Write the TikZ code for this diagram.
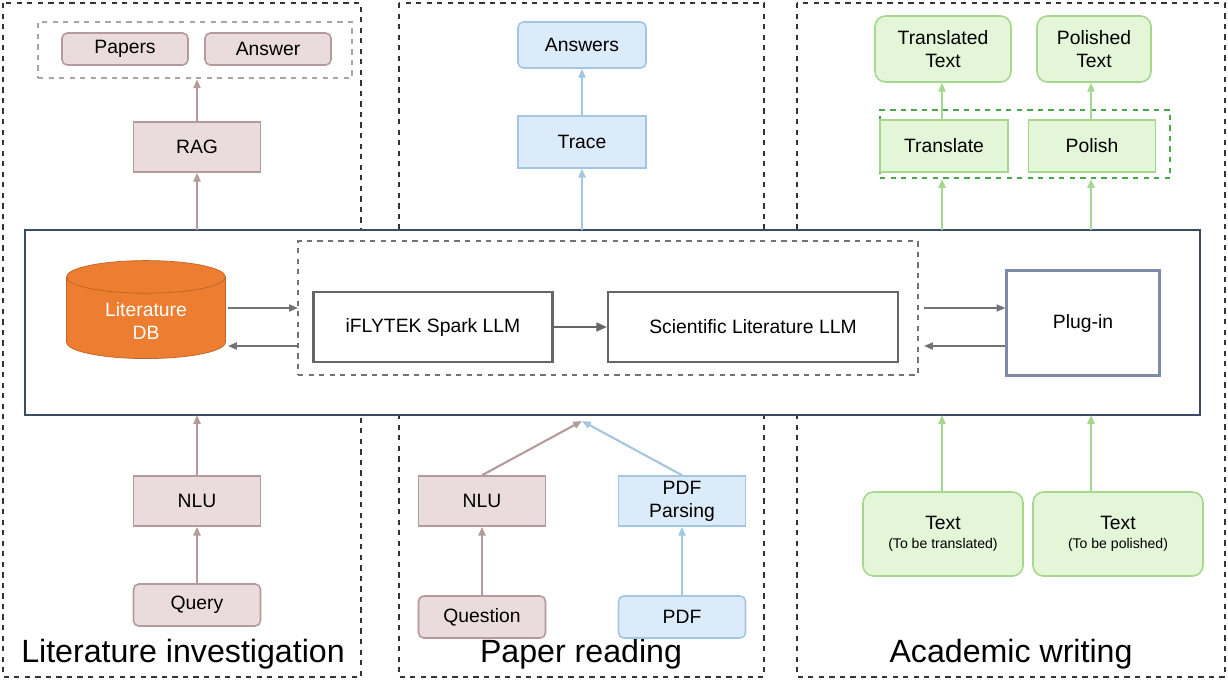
\documentclass[tikz,border=0pt]{standalone}
\usepackage{fontspec}
\setmainfont{Liberation Sans}
\usetikzlibrary{shapes.geometric,arrows.meta}
\definecolor{brF}{HTML}{EADCDC}\definecolor{brD}{HTML}{B49A9A}
\definecolor{blF}{HTML}{DCEBFA}\definecolor{blD}{HTML}{A3C6E2}
\definecolor{grF}{HTML}{E3F6D8}\definecolor{grD}{HTML}{A5D78E}
\definecolor{frame}{HTML}{3D4A66}\definecolor{plug}{HTML}{7D8AA8}
\definecolor{dbc}{HTML}{ED7D31}
\begin{document}
\begin{tikzpicture}[x=0.02cm,y=-0.02cm,
 box/.style={draw,line width=0.9pt,rounded corners=3pt,inner sep=0pt,font=\fontsize{11}{13}\selectfont,align=center},
 br/.style={box,fill=brF,draw=brD},
 bl/.style={box,fill=blF,draw=blD},
 gr/.style={box,fill=grF,draw=grD,rounded corners=6pt},
 panel/.style={draw=black!80,dashed,line width=0.9pt},
 arr/.style={-{Triangle[length=5pt,width=4pt]},line width=1.2pt},
 title/.style={font=\fontsize{18.3}{21}\selectfont}]
\useasboundingbox (0,0) rectangle (1228,680);
\draw[panel] (3,3) rectangle (361,677);
\draw[panel] (399,3) rectangle (764,677);
\draw[panel] (797,3) rectangle (1225,677);
\node[title] (t1) at (183,654) {Literature investigation};
\node[title] (t2) at (581,654) {Paper reading};
\node[title] (t3) at (1011,654) {Academic writing};
% main frame
\draw[frame,fill=white,line width=1pt] (25,230) coordinate (F) rectangle (1200,415);
\coordinate (f1t) at (197,230);\coordinate (f1b) at (197,415);
\coordinate (f2t) at (582,230);\coordinate (f2b) at (582,421);
\coordinate (f3t) at (942,230);\coordinate (f3b) at (942,415);
\coordinate (f4t) at (1091,230);\coordinate (f4b) at (1091,415);
% panel 1
\node[draw=black!35,dashed,line width=1.5pt,minimum width=314*0.02cm,minimum height=56*0.02cm] (g1) at (195,50) {};
\node[br,minimum width=126*0.02cm,minimum height=32*0.02cm] (papers) at (125,49) {Papers};
\node[br,minimum width=126*0.02cm,minimum height=32*0.02cm] (answer) at (268,49) {Answer};
\node[br,rounded corners=0pt,minimum width=127*0.02cm,minimum height=50*0.02cm] (rag) at (197,147) {RAG};
\node[br,rounded corners=0pt,minimum width=127*0.02cm,minimum height=50*0.02cm] (nlu1) at (197,501) {NLU};
\node[br,minimum width=127*0.02cm,minimum height=42*0.02cm] (query) at (197,605) {Query};
\draw[arr,brD] (rag) -- (g1.south-|rag);
\draw[arr,brD] (f1t) -- (rag);
\draw[arr,brD] (query) -- (nlu1);
\draw[arr,brD] (nlu1) -- (f1b);
% panel 2
\node[bl,minimum width=128*0.02cm,minimum height=46*0.02cm] (ans) at (582,45) {Answers};
\node[bl,rounded corners=0pt,minimum width=128*0.02cm,minimum height=52*0.02cm] (trace) at (582,142) {Trace};
\draw[arr,blD] (trace) -- (ans);
\draw[arr,blD] (f2t) -- (trace);
\node[br,rounded corners=0pt,minimum width=127*0.02cm,minimum height=50*0.02cm] (nlu2) at (482,501) {NLU};
\node[br,minimum width=127*0.02cm,minimum height=42*0.02cm] (quest) at (482,617) {Question};
\node[bl,rounded corners=0pt,minimum width=127*0.02cm,minimum height=50*0.02cm] (pdfp) at (682,501) {PDF\\Parsing};
\node[bl,minimum width=127*0.02cm,minimum height=42*0.02cm] (pdf) at (682,617) {PDF};
\draw[arr,brD] (quest) -- (nlu2);
\draw[arr,blD] (pdf) -- (pdfp);
\draw[arr,brD] (nlu2.north) -- (f2b);
\draw[arr,blD] (pdfp.north) -- (f2b);
% panel 3
\node[gr,minimum width=136*0.02cm,minimum height=66*0.02cm] (tt) at (943,49) {Translated\\Text};
\node[gr,minimum width=114*0.02cm,minimum height=66*0.02cm] (pt) at (1094,49) {Polished\\Text};
\node[draw=black!50!green!70,dashed,line width=1.1pt,minimum width=290*0.02cm,minimum height=68*0.02cm] (g3) at (1025,144) {};
\node[box,fill=grF,draw=grD,rounded corners=0pt,minimum width=128*0.02cm,minimum height=52*0.02cm] (tr) at (944,146) {Translate};
\node[box,fill=grF,draw=grD,rounded corners=0pt,minimum width=127*0.02cm,minimum height=52*0.02cm] (po) at (1092,146) {Polish};
\draw[arr,grD] (tr.north-|f3t) -- (tt.south-|f3t);
\draw[arr,grD] (po.north-|f4t) -- (pt.south-|f4t);
\draw[arr,grD] (f3t) -- (g3.south-|f3t);
\draw[arr,grD] (f4t) -- (g3.south-|f4t);
\node[gr,minimum width=160*0.02cm,minimum height=84*0.02cm] (tx1) at (943,534) {Text\\[-2pt]{\fontsize{8}{10}\selectfont (To be translated)}};
\node[gr,minimum width=170*0.02cm,minimum height=84*0.02cm] (tx2) at (1118,534) {Text\\[-2pt]{\fontsize{8}{10}\selectfont (To be polished)}};
\draw[arr,grD] (tx1.north-|f3b) -- (f3b);
\draw[arr,grD] (tx2.north-|f4b) -- (f4b);
% inside
\node[cylinder,shape border rotate=90,aspect=0.35,fill=dbc,draw=dbc!80!black,minimum width=159*0.02cm,minimum height=98*0.02cm,text=white,align=center,font=\fontsize{11}{13}\selectfont] (db) at (146,321) {Literature\\DB};
\node[draw=black!55,dashed,line width=1.2pt,minimum width=620*0.02cm,minimum height=134*0.02cm] (g2) at (608,308) {};
\node[draw=black!60,line width=1.2pt,minimum width=239*0.02cm,minimum height=70*0.02cm,font=\fontsize{11}{13}\selectfont] (spark) at (433,327) {iFLYTEK Spark LLM};
\node[draw=black!60,line width=1.2pt,minimum width=290*0.02cm,minimum height=70*0.02cm,font=\fontsize{11}{13}\selectfont] (sci) at (753,327) {Scientific Literature LLM};
\node[draw=plug,line width=1.2pt,minimum width=153*0.02cm,minimum height=105*0.02cm,font=\fontsize{11}{13}\selectfont] (plug) at (1083,323) {Plug-in};
\draw[arr,black!60,-{Triangle[length=6pt,width=5pt]}] (spark) -- (sci);
\draw[-{Triangle[length=5pt,width=4pt]},black!55,line width=0.9pt] (228,308) -- (298,308);
\draw[-{Triangle[length=5pt,width=4pt]},black!55,line width=0.9pt] (298,346) -- (228,346);
\draw[-{Triangle[length=5pt,width=4pt]},black!55,line width=0.9pt] (924,308) -- (plug.west|-0,308);
\draw[-{Triangle[length=5pt,width=4pt]},black!55,line width=0.9pt] (plug.west|-0,346) -- (924,346);
\end{tikzpicture}
\end{document}
